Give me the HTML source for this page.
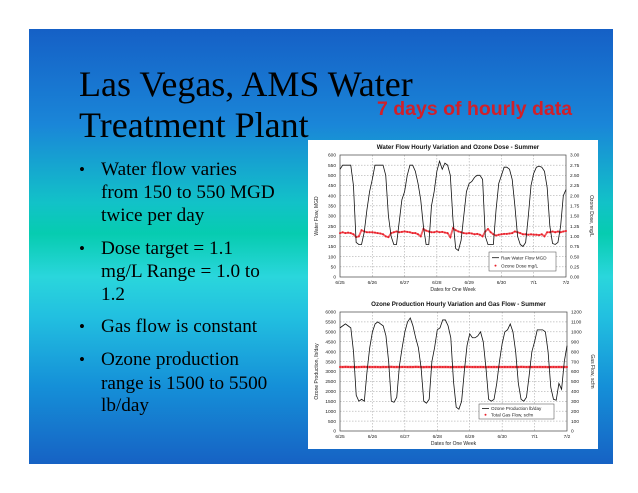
<!DOCTYPE html>
<html><head><meta charset="utf-8"><style>
html,body{margin:0;padding:0;background:#fff;}
#wrap{position:relative;width:638px;height:493px;overflow:hidden;background:#fff;}
#slide{position:absolute;left:29px;top:29px;width:584px;height:435px;
background:linear-gradient(to bottom,#1560c6 0%,#1a86d8 22%,#12c2c8 40%,#06ccb0 47%,#2ad6dc 57%,#22c0e0 66%,#1590d8 82%,#1662c4 100%);}
.serif{font-family:"Liberation Serif",serif;color:#000;position:absolute;white-space:nowrap;}
.t{font-size:36px;line-height:36px;left:50px;}
.b{font-size:19.2px;line-height:19px;left:72px;}
.d{font-size:17px;line-height:19px;left:50px;}
#red{position:absolute;left:348px;top:70px;font:bold 19.5px/20px "Liberation Sans",sans-serif;color:#d0202a;white-space:nowrap;}
svg text{font-family:"Liberation Sans",sans-serif;}
</style></head><body>
<div id="wrap">
<div id="slide">
<div class="serif t" style="top:37px">Las Vegas, AMS Water</div>
<div class="serif t" style="top:78px">Treatment Plant</div>
<div id="red">7 days of hourly data</div>
<div>
<div class="serif d" style="top:131px">•</div>
<div class="serif b" style="top:131px">Water flow varies</div>
<div class="serif b" style="top:154px">from 150 to 550 MGD</div>
<div class="serif b" style="top:177px">twice per day</div>
<div class="serif d" style="top:210px">•</div>
<div class="serif b" style="top:210px">Dose target = 1.1</div>
<div class="serif b" style="top:233px">mg/L Range = 1.0 to</div>
<div class="serif b" style="top:256px">1.2</div>
<div class="serif d" style="top:288px">•</div>
<div class="serif b" style="top:288px">Gas flow is constant</div>
<div class="serif d" style="top:321px">•</div>
<div class="serif b" style="top:321px">Ozone production</div>
<div class="serif b" style="top:345px">range is 1500 to 5500</div>
<div class="serif b" style="top:367px">lb/day</div>
</div>
</div>
<svg id="charts" width="638" height="493" style="position:absolute;left:0;top:0"></svg>
</div>
<script>
const dayLabels=["6/25","6/26","6/27","6/28","6/29","6/30","7/1","7/2"];
const flowLeftTicks=[0,50,100,150,200,250,300,350,400,450,500,550,600];
const doseRightTicks=["0.00","0.25","0.50","0.75","1.00","1.25","1.50","1.75","2.00","2.25","2.50","2.75","3.00"];
const ozoneLeftTicks=[0,500,1000,1500,2000,2500,3000,3500,4000,4500,5000,5500,6000];
const gasRightTicks=[0,100,200,300,400,500,600,700,800,900,1000,1100,1200];
// 2-hour samples, 7 days
const waterFlow=[530,550,550,550,550,450,170,160,160,220,330,420,
480,550,550,550,550,500,300,200,160,160,270,380,
420,500,550,550,520,460,380,250,160,160,350,420,
520,570,530,560,550,500,280,140,130,180,300,420,
460,470,490,500,500,480,200,160,160,160,330,460,
500,540,540,530,480,350,200,160,150,170,300,450,
510,540,545,540,520,440,250,165,160,170,250,400,430];
const ozoneDose=[1.08,1.10,1.08,1.09,1.08,1.05,0.98,1.00,1.15,1.12,1.10,1.10,
1.10,1.09,1.08,1.07,1.05,1.00,0.98,1.08,1.10,1.12,1.10,1.11,
1.12,1.11,1.10,1.08,1.08,1.05,1.00,1.18,1.14,1.12,1.10,1.10,
1.12,1.10,1.11,1.09,1.08,0.98,1.20,1.15,1.12,1.10,1.08,1.07,
1.08,1.07,1.05,1.06,1.04,1.00,1.12,1.18,1.10,1.05,1.02,1.04,
1.05,1.06,1.06,1.07,1.08,1.12,1.10,1.08,1.05,1.05,1.04,1.05,
1.04,1.04,1.03,1.05,1.00,1.10,1.10,1.12,1.10,1.12,1.10,1.12,1.13];
const ozoneProd=[5200,5300,5400,5300,5200,4000,1800,1500,1600,1500,3000,4200,
5000,5400,5500,5400,5300,4800,3500,1500,1450,1700,3300,4200,
5000,5500,5700,5300,4700,4200,3200,1500,1400,1600,3500,4200,
5100,5200,5600,5600,5300,4700,2500,1200,1100,1500,3000,4300,
4900,4700,4700,4800,5000,4500,3200,1600,1500,1600,2400,3500,
4400,5000,5100,5400,5000,4000,2400,1600,1500,1700,2800,4000,
4500,5100,5100,5100,5000,4000,2200,1600,1550,2400,2100,3500,4300];
const gasFlow=[646,645,647,646,645,646,644,645,646,647,645,646,
645,646,645,644,646,645,646,647,645,646,645,646,
646,645,646,645,647,646,645,644,646,645,646,645,
645,646,645,646,645,644,646,645,646,645,646,647,
646,645,646,645,646,645,644,646,645,646,645,646,
645,646,645,646,645,646,645,647,646,645,646,645,
646,645,646,645,646,644,645,646,645,646,645,646,645];

const NS="http://www.w3.org/2000/svg";
const svg=document.getElementById('charts');
function mk(tag,attrs,parent){const e=document.createElementNS(NS,tag);for(const k in attrs)e.setAttribute(k,attrs[k]);(parent||svg).appendChild(e);return e;}

const panel=mk('rect',{x:308,y:140,width:290,height:309,fill:'#fff'});



function drawChart(cfg){
  const g=mk('g',{});
  
  
  const X=i=>cfg.x0+(cfg.x1-cfg.x0)*i/(cfg.n-1);
  const XD=d=>cfg.x0+(cfg.x1-cfg.x0)*d/7;
  const YL=v=>cfg.y1-(cfg.y1-cfg.y0)*v/cfg.lmax;
  const YR=v=>cfg.y1-(cfg.y1-cfg.y0)*v/cfg.rmax;
  cfg.lticks.forEach((t,i)=>{
    const y=YL(t);
    if(i>0&&i<cfg.lticks.length-1) mk('line',{x1:cfg.x0,x2:cfg.x1,y1:y,y2:y,stroke:'#999','stroke-width':0.5,'stroke-dasharray':'1.5,1.5'},g);
    const tl=mk('text',{x:cfg.x0-4,y:y+1.7,'font-size':4.8,'text-anchor':'end',fill:'#222'},g);tl.textContent=t;
    
    
  });
  cfg.rticks.forEach((t,i)=>{
    const y=YR(parseFloat(t));
    const tr=mk('text',{x:cfg.x1+4,y:y+1.7,'font-size':4.8,fill:'#222'},g);tr.textContent=t;
    
    
  });
  dayLabels.forEach((d,i)=>{
    const x=XD(i);
    if(i>0&&i<7) mk('line',{x1:x,x2:x,y1:cfg.y0,y2:cfg.y1,stroke:'#999','stroke-width':0.5,'stroke-dasharray':'1.5,1.5'},g);
    const tx=mk('text',{x:x,y:cfg.y1+7,'font-size':4.8,'text-anchor':'middle',fill:'#222'},g);tx.textContent=d;
    
    
  });
  const fr=mk('rect',{x:cfg.x0,y:cfg.y0,width:cfg.x1-cfg.x0,height:cfg.y1-cfg.y0,fill:'none',stroke:'#444','stroke-width':0.7},g);
  
  
  const tt=mk('text',{x:(cfg.x0+cfg.x1)/2+5,y:cfg.y0-6,'font-size':6.2,'font-weight':'bold','text-anchor':'middle',fill:'#111'},g);tt.textContent=cfg.title;
  
  
  const xt=mk('text',{x:(cfg.x0+cfg.x1)/2,y:cfg.y1+14,'font-size':5,'text-anchor':'middle',fill:'#222'},g);xt.textContent='Dates for One Week';
  
  
  const ym=(cfg.y0+cfg.y1)/2;
  const yl=mk('text',{x:0,y:0,'font-size':5,'text-anchor':'middle',fill:'#222',transform:`translate(${cfg.x0-22},${ym}) rotate(-90)`},g);yl.textContent=cfg.ltitle;
  
  
  const yr=mk('text',{x:0,y:0,'font-size':5,'text-anchor':'middle',fill:'#222',transform:`translate(${cfg.x1+24},${ym}) rotate(90)`},g);yr.textContent=cfg.rtitle;
  
  
  const rp=cfg.red.map((v,i)=>X(i)+','+YR(v)).join(' ');
  const rl=mk('polyline',{points:rp,fill:'none',stroke:'#f04048','stroke-width':cfg.redW,'stroke-opacity':0.85},g);
  
  
  cfg.red.forEach((v,i)=>{
    const c=mk('circle',{cx:X(i),cy:YR(v),r:1,fill:'#e8202a'},g);
    
    
  });
  const bp=cfg.black.map((v,i)=>X(i)+','+YL(v)).join(' ');
  const bl=mk('polyline',{points:bp,fill:'none',stroke:'#111','stroke-width':0.8},g);
  
  
  const L=cfg.leg;
  const lg=mk('g',{},g);
  
  
  mk('rect',{x:L[0],y:L[1],width:L[2],height:L[3],fill:'#fff',stroke:'#444','stroke-width':0.5},lg);
  mk('line',{x1:L[0]+3,x2:L[0]+10,y1:L[1]+L[3]*0.3,y2:L[1]+L[3]*0.3,stroke:'#111','stroke-width':0.8},lg);
  const l1=mk('text',{x:L[0]+12,y:L[1]+L[3]*0.3+1.6,'font-size':4.6,fill:'#222'},lg);l1.textContent=cfg.legB;
  
  
  mk('circle',{cx:L[0]+6.5,cy:L[1]+L[3]*0.72,r:1,fill:'#e8202a'},lg);
  const l2=mk('text',{x:L[0]+12,y:L[1]+L[3]*0.72+1.6,'font-size':4.6,fill:'#222'},lg);l2.textContent=cfg.legR;
  
  
}
drawChart({name:'water-flow-chart',x0:340,x1:566,y0:155,y1:277,n:waterFlow.length,lmax:600,rmax:3,
 lticks:flowLeftTicks,rticks:doseRightTicks,black:waterFlow,red:ozoneDose,redW:1.8,
 blackName:'water-flow-line',redName:'ozone-dose-line',
 title:'Water Flow Hourly Variation and Ozone Dose - Summer',ltitle:'Water Flow, MGD',rtitle:'Ozone Dose, mg/L',
 leg:[489,252,67,19],legB:'Raw Water Flow MGD',legR:'Ozone Dose mg/L'});
drawChart({name:'ozone-production-chart',x0:340,x1:567,y0:312,y1:431,n:ozoneProd.length,lmax:6000,rmax:1200,
 lticks:ozoneLeftTicks,rticks:gasRightTicks.map(String),black:ozoneProd,red:gasFlow,redW:2.4,
 blackName:'ozone-production-line',redName:'gas-flow-line',
 title:'Ozone Production Hourly Variation and Gas Flow - Summer',ltitle:'Ozone Production, lb/day',rtitle:'Gas Flow, scfm',
 leg:[479,404,75,15],legB:'Ozone Production lb/day',legR:'Total Gas Flow, scfm'});
</script>
</body></html>
